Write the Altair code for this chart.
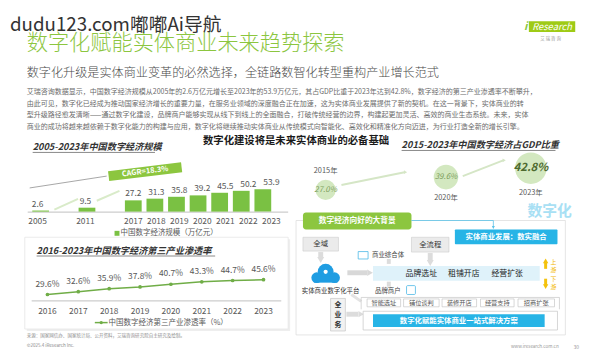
import altair as alt
import pandas as pd

# ---------------- data ----------------
scale_years = [2005, 2011, 2017, 2018, 2019, 2020, 2021, 2022, 2023]
scale_values = [2.6, 9.5, 27.2, 31.3, 35.8, 39.2, 45.5, 50.2, 53.9]

pen_years = [2016, 2017, 2018, 2019, 2020, 2021, 2022, 2023]
pen_values = [29.6, 32.6, 35.9, 37.8, 40.7, 43.3, 44.7, 45.6]

gdp_years = [2015, 2020, 2023]
gdp_values = [27.0, 39.6, 42.8]

watermark = "dudu123.com嘟嘟Ai导航"
main_title = "数字化赋能实体商业未来趋势探索"
subtitle = "数字化升级是实体商业变革的必然选择，全链路数智化转型重构产业增长范式"
body_lines = [
    "艾瑞咨询数据显示，中国数字经济规模从2005年的2.6万亿元增长至2023年的53.9万亿元，其占GDP比重于2023年达到42.8%，数字经济的第三产业渗透率不断攀升，",
    "由此可见，数字化已经成为推动国家经济增长的重要力量，在服务业领域的深度融合正在加速，这为实体商业发展提供了新的契机。在这一背景下，实体商业的转",
    "型升级路径愈发清晰——通过数字化建设，品牌商户能够实现从线下到线上的全面融合，打破传统经营的边界，构建起更加灵活、高效的商业生态系统。未来，实体",
    "商业的成功将越来越依赖于数字化能力的构建与应用，数字化将继续推动实体商业从传统模式向智能化、高效化和精准化方向迈进，为行业打造全新的增长引擎。",
]
heading = "数字化建设将是未来实体商业的必备基础"
bar_title = "2005-2023年中国数字经济规模"
bar_legend = "中国数字经济规模（万亿元）"
cagr_text = "CAGR=18.3%"
line_title = "2016-2023年中国数字经济第三产业渗透率"
line_legend = "中国数字经济第三产业渗透率（%）"
gdp_title = "2015-2023年中国数字经济占GDP比重"
source_text = "来源：国家网信办、国家统计局、公开资料，艾瑞咨询研究院自主研究及绘制。"
copyright_text = "©2025.4 iResearch Inc."
footer_url = "www.iresearch.com.cn"
page_no = "30"
row_items = ["智能选址", "铺位谈判", "装修开店", "经营支持", "招商扩张"]
band_items = ["品牌选址", "租铺开店", "经营扩张"]

# ---------------- helpers ----------------
O = 8  # page margin
FONT = "Noto Sans CJK SC"
dummy = pd.DataFrame({"d": [0]})


def X(v):
    return alt.value(v - O)


def Y(v):
    return alt.value(v - O)


def text(s, x, y, size=8, color="#333333", weight="normal", align="left",
         style="normal", angle=None):
    kw = dict(text=s, fontSize=size, color=color, fontWeight=weight, align=align,
              baseline="middle", font=FONT, fontStyle=style)
    if angle is not None:
        kw["angle"] = angle
    return alt.Chart(dummy).mark_text(**kw).encode(x=X(x), y=Y(y))


def box(x1, y1, x2, y2, fill="#ffffff", stroke=None, sw=1, r=0, fill_opacity=1):
    kw = dict(fill=fill, cornerRadius=r, fillOpacity=fill_opacity)
    if stroke:
        kw["stroke"] = stroke
        kw["strokeWidth"] = sw
    return alt.Chart(dummy).mark_rect(**kw).encode(x=X(x1), x2=X(x2), y=Y(y1), y2=Y(y2))


def rule(x1, y1, x2, y2, color="#bbbbbb", sw=1):
    return alt.Chart(dummy).mark_rule(color=color, strokeWidth=sw).encode(
        x=X(x1), x2=X(x2), y=Y(y1), y2=Y(y2))


def marker(x, y, shape, size, color):
    return alt.Chart(dummy).mark_point(shape=shape, filled=True, size=size, color=color,
                                       opacity=1).encode(x=X(x), y=Y(y))


layers = []

# ---------------- header ----------------
layers.append(text(main_title, 27, 42, size=21.5, color="#8cc63f", weight=300))
layers.append(text(watermark, 10, 23, size=19, color="#333333"))
layers.append(text("i", 531, 24.5, size=11, color="#8cc63f", weight="bold", style="italic"))
layers.append(box(536, 19, 583, 30, fill="#9fcb16"))
layers.append(text("Research", 559.5, 24.5, size=9.5, color="#ffffff", align="center", style="italic"))
layers.append(text("艾  瑞  咨  询", 558, 37, size=4.5, color="#999999", align="center"))
layers.append(text(subtitle, 27, 72, size=12.3, color="#4a4a4a", weight=300))
for i, line in enumerate(body_lines):
    layers.append(text(line, 27, 90.5 + i * 12, size=7.1, color="#6b6b6b"))
layers.append(text(heading, 300, 140, size=10.5, color="#1a1a1a", weight="bold", align="center"))

# ---------------- bar chart (2005-2023 scale) ----------------
scale_df = pd.DataFrame({"year": scale_years, "value": scale_values})
bx = alt.Scale(domain=[2005, 2017, 2023], range=[38 - O, 135 - O, 275 - O], nice=False, zero=False)
by = alt.Scale(domain=[0, 60], range=[212 - O, 212 - O - 25.2], nice=False)

layers.append(text(bar_title, 33, 147, size=9.3, color="#333333", weight="bold", style="italic"))
layers.append(rule(33, 152, 157, 152, color="#555555", sw=0.7))
# CAGR decoration
layers.append(rule(30, 188, 108, 176, color="#a6a6a6", sw=1))
layers.append(rule(110, 176, 184, 167, color="#8cc63f", sw=10))
layers.append(text(cagr_text, 147, 171.5, size=7.5, color="#ffffff", weight="bold",
                   align="center", angle=353))
layers.append(rule(55, 210, 79, 199, color="#d9ebc9", sw=2))
layers.append(rule(98, 201, 121, 191, color="#d9ebc9", sw=2))

layers.append(rule(28, 212.5, 292, 212.5, color="#bfbfbf", sw=1))
bar_base = alt.Chart(scale_df)
layers.append(bar_base.mark_bar(orient="vertical", size=17, color="#7ac143").encode(
    x=alt.X("year:Q", scale=bx, axis=None),
    y=alt.Y("value:Q", scale=by, axis=None)))
layers.append(bar_base.mark_text(dy=-7, fontSize=8.5, color="#595959", font=FONT).encode(
    x=alt.X("year:Q", scale=bx, axis=None),
    y=alt.Y("value:Q", scale=by, axis=None),
    text=alt.Text("value:Q", format=".1f")))
layers.append(bar_base.mark_text(fontSize=8.5, color="#595959", font=FONT, baseline="middle").encode(
    x=alt.X("year:Q", scale=bx, axis=None),
    y=Y(222),
    text=alt.Text("year:Q", format="d")))
layers.append(box(116, 231.5, 121, 236.5, fill="#7ac143"))
layers.append(text(bar_legend, 122, 234, size=7.6, color="#595959"))

# ---------------- line chart card ----------------
layers.append(box(27, 240, 294, 333, fill="#eeeeee"))
layers.append(box(25, 238, 292, 331, fill="#ffffff", stroke="#e6e6e6", sw=0.8))
layers.append(text(line_title, 37, 252, size=9.3, color="#333333", weight="bold", style="italic"))
layers.append(rule(37, 257, 218, 257, color="#555555", sw=0.7))

pen_df = pd.DataFrame({"year": pen_years, "value": pen_values})
lx = alt.Scale(domain=[2016, 2023], range=[48 - O, 267 - O], nice=False, zero=False)
ly = alt.Scale(domain=[29.6, 45.6], range=[296 - O, 281 - O], nice=False, zero=False)
pen_base = alt.Chart(pen_df)
enc = dict(x=alt.X("year:Q", scale=lx, axis=None), y=alt.Y("value:Q", scale=ly, axis=None))
layers.append(rule(32, 302.5, 285, 302.5, color="#bfbfbf", sw=1))
layers.append(pen_base.mark_line(color="#70ad47", strokeWidth=1.5).encode(**enc))
layers.append(pen_base.mark_point(filled=True, size=14, color="#70ad47", opacity=1).encode(**enc))
layers.append(pen_base.transform_calculate(lbl="format(datum.value, '.1f') + '%'").mark_text(
    dy=-11, fontSize=8.5, color="#595959", font=FONT).encode(text="lbl:N", **enc))
layers.append(pen_base.mark_text(fontSize=8.5, color="#595959", font=FONT, baseline="middle").encode(
    x=alt.X("year:Q", scale=lx, axis=None), y=Y(312.5),
    text=alt.Text("year:Q", format="d")))
layers.append(rule(96, 324.5, 109, 324.5, color="#70ad47", sw=1.5))
layers.append(marker(102.5, 324.5, "circle", 12, "#70ad47"))
layers.append(text(line_legend, 110, 324.5, size=7.6, color="#595959"))

layers.append(text(source_text, 27, 338, size=4.6, color="#8c8c8c"))
layers.append(text(copyright_text, 27, 348, size=4.6, color="#8c8c8c"))

# ---------------- GDP share ----------------
layers.append(text(gdp_title, 407, 145, size=9.3, color="#333333", weight="bold", style="italic"))
layers.append(rule(407, 150, 563, 150, color="#555555", sw=0.7))
layers.append(rule(346, 185, 410, 172, color="#d5e6c6", sw=2))
layers.append(marker(411, 172, "triangle-right", 14, "#d5e6c6"))
layers.append(rule(469, 176, 510, 160, color="#d5e6c6", sw=2))
layers.append(marker(511, 160, "triangle-right", 14, "#d5e6c6"))

gdp_df = pd.DataFrame({"year": gdp_years, "value": gdp_values})
gx = alt.Scale(domain=[2015, 2020, 2023], range=[330 - O, 452 - O, 538 - O], nice=False, zero=False)
gy = alt.Scale(domain=[27.0, 39.6, 42.8], range=[190 - O, 177 - O, 168 - O], nice=False, zero=False)
gs = alt.Scale(domain=[27.0, 39.6, 42.8], range=[420, 620, 1020], nice=False, zero=False)
gbase = alt.Chart(gdp_df).transform_calculate(
    lbl="format(datum.value, '.1f') + '%'", ylbl="format(datum.year, 'd') + '年'")
genc = dict(x=alt.X("year:Q", scale=gx, axis=None), y=alt.Y("value:Q", scale=gy, axis=None))
layers.append(gbase.mark_circle(color="#d3e8c0", opacity=1).encode(
    size=alt.Size("value:Q", scale=gs, legend=None), **genc))
layers.append(gbase.transform_filter("datum.year < 2023").mark_text(
    fontSize=8, color="#7c9e5c", font=FONT, fontStyle="italic", baseline="middle").encode(
    text="lbl:N", **genc))
layers.append(gbase.transform_filter("datum.year == 2023").mark_text(
    fontSize=11.5, color="#4d6a2f", font=FONT, fontStyle="italic", fontWeight="bold",
    baseline="middle").encode(text="lbl:N", **genc))
layers.append(gbase.transform_filter("datum.year == 2015").mark_text(
    fontSize=7.5, color="#595959", font=FONT, baseline="middle", dy=-19).encode(
    text="ylbl:N", **genc))
layers.append(gbase.transform_filter("datum.year == 2020").mark_text(
    fontSize=7.5, color="#595959", font=FONT, baseline="middle", dy=21).encode(
    text="ylbl:N", **genc))
layers.append(gbase.transform_filter("datum.year == 2023").mark_text(
    fontSize=7.5, color="#595959", font=FONT, baseline="middle", dy=25).encode(
    text="ylbl:N", **genc))

# ---------------- diagram ----------------
layers.append(box(300, 221, 573, 337, fill="#ffffff", stroke="#dedede", sw=0.8))
layers.append(text("数字化", 557, 211, size=15, color="#a8e0f4", weight="bold", align="center"))
layers.append(box(307, 213, 417, 230, fill="#8cc63f", r=3))
layers.append(text("数字经济向好的大背景", 362, 221.5, size=7.8, color="#ffffff", weight="bold", align="center"))
layers.append(rule(417, 221, 500, 221, color="#5bc2e7", sw=0.8))
layers.append(rule(500, 221, 500, 229, color="#5bc2e7", sw=0.8))
layers.append(marker(500, 228, "triangle-down", 10, "#5bc2e7"))
layers.append(box(461, 230, 565, 245, fill="#27b4e6", r=1))
layers.append(text("实体商业发展：数实融合", 513, 237.5, size=7.5, color="#ffffff", weight="bold", align="center"))

layers.append(box(307, 238, 343, 252, fill="#ebebeb", stroke="#cccccc", sw=0.6))
layers.append(text("全域", 325, 245, size=7.5, color="#333333", align="center"))
layers.append(box(417, 238, 455, 253, fill="#ebebeb", stroke="#cccccc", sw=0.6))
layers.append(text("全流程", 436, 245.5, size=7.5, color="#333333", align="center"))
layers.append(rule(325, 253, 325, 259, color="#dcdcdc", sw=5))
layers.append(marker(325, 261, "triangle-down", 50, "#dcdcdc"))
layers.append(rule(436, 254, 436, 262, color="#dcdcdc", sw=5))
layers.append(marker(436, 264, "triangle-down", 50, "#dcdcdc"))

layers.append(box(363, 252.5, 373, 260, fill="#ffffff", stroke="#4cb8e6", sw=0.8))
layers.append(text("商业综合体", 377, 256.5, size=6.5, color="#444444"))
layers.append(rule(394, 260, 394, 265, color="#dcdcdc", sw=4))

# cloud icon
layers.append(marker(330, 273, "circle", 260, "#1f9de2"))
layers.append(marker(321, 279, "circle", 120, "#1f9de2"))
layers.append(marker(339, 279, "circle", 120, "#1f9de2"))
layers.append(box(318, 278, 342, 284, fill="#1f9de2"))
layers.append(marker(330, 273, "circle", 18, "#ffffff"))
layers.append(text("实体商业数字化平台", 335, 292, size=6.5, color="#333333", align="center"))
layers.append(rule(352, 274, 372, 274, color="#d8d8d8", sw=5))
layers.append(marker(375, 274, "triangle-right", 45, "#d8d8d8"))

layers.append(box(378, 267, 547, 282, fill="#dff2fa"))
for name, cx in zip(band_items, [427, 470, 514]):
    layers.append(text(name, cx, 275, size=8, color="#222222", align="center"))

layers.append(rule(394, 283, 394, 288, color="#dcdcdc", sw=4))
layers.append(text("品牌商户", 380, 292.5, size=6.5, color="#444444"))
layers.append(box(412, 287, 421, 296, fill="#ffffff", stroke="#4cb8e6", sw=0.8, r=1))

layers.append(rule(553, 263, 553, 270, color="#f4c20d", sw=3))
layers.append(marker(553, 262, "triangle-up", 30, "#f4c20d"))
layers.append(rule(553, 280, 553, 287, color="#f4c20d", sw=3))
layers.append(marker(553, 288, "triangle-down", 30, "#f4c20d"))
for ch, cy in zip(["上", "游", "下", "游"], [263, 271, 280, 288]):
    layers.append(text(ch, 561, cy, size=6, color="#f2b705", align="center"))

layers.append(box(335, 300, 350, 333, fill="#f2f2f2", stroke="#bdbdbd", sw=0.6))
for ch, cy in zip(["全", "业", "务"], [307, 317, 327]):
    layers.append(text(ch, 342.5, cy, size=7, color="#333333", weight="bold", align="center"))
layers.append(rule(351, 316, 363, 316, color="#dcdcdc", sw=5))
layers.append(marker(366, 316, "triangle-right", 40, "#dcdcdc"))
layers.append(rule(356, 296, 366, 303, color="#e3e3e3", sw=3))

layers.append(rule(366, 299, 567, 299, color="#bdbdbd", sw=0.6))
layers.append(rule(366, 299, 366, 311, color="#bdbdbd", sw=0.6))
layers.append(rule(567, 299, 567, 311, color="#bdbdbd", sw=0.6))
for name, (x1, x2) in zip(row_items, [(372, 406), (409, 445), (448, 483), (487, 521), (525, 562)]):
    layers.append(box(x1, 300.5, x2, 308.5, fill="#ffffff", stroke="#bdbdbd", sw=0.6))
    layers.append(text(name, (x1 + x2) / 2, 304.5, size=6.3, color="#555555", align="center"))

layers.append(box(368, 313, 565, 332, fill="#ffffff", stroke="#c4c4c4", sw=0.7))
layers.append(box(378, 316, 552, 329, fill="#27b4e6"))
layers.append(text("数字化赋能实体商业一站式解决方案", 465, 322.5, size=7.5, color="#ffffff",
                   weight="bold", align="center"))

# footer
layers.append(text(footer_url, 542, 349, size=4.6, color="#999999", align="center"))
layers.append(text(page_no, 584, 349, size=5, color="#999999", align="center"))

chart = alt.layer(*layers).resolve_scale(
    x="independent", y="independent", size="independent"
).properties(
    width=600 - O, height=360 - O, autosize="none", padding=0, background="#ffffff"
).configure_view(stroke=None)

chart.save("out.html", embed_options={"renderer": "svg", "actions": False})
